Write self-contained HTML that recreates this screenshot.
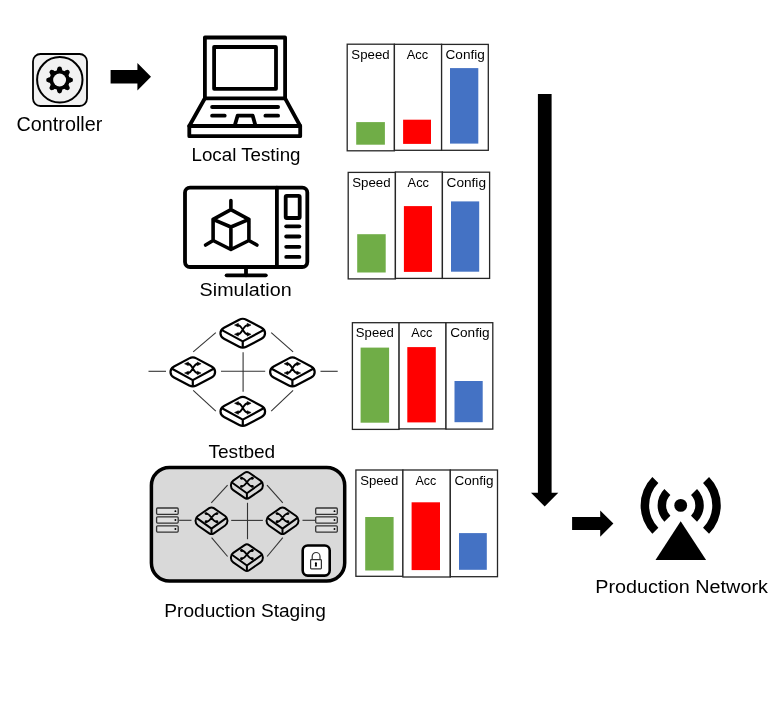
<!DOCTYPE html><html><head><meta charset="utf-8"><style>html,body{margin:0;padding:0;background:#fff;width:779px;height:706px;overflow:hidden}svg{display:block;will-change:transform}text{font-family:"Liberation Sans",sans-serif}</style></head><body>
<svg width="779" height="706" viewBox="0 0 779 706">
<rect width="779" height="706" fill="#fff"/>
<rect x="33" y="54" width="54" height="52" rx="7.5" fill="#F2F2F2" stroke="#000" stroke-width="1.8"/>
<circle cx="59.8" cy="79.8" r="22.7" fill="none" stroke="#000" stroke-width="2"/>
<g transform="translate(59.6,80.0)"><circle r="10.1" fill="#000"/><g transform="rotate(0)"><path d="M-2.9,-9 L-2.3,-11.4 L2.3,-11.4 L2.9,-9Z" fill="#000"/><line x1="0" y1="-9.5" x2="0" y2="-11.1" stroke="#000" stroke-width="4.6" stroke-linecap="round"/></g><g transform="rotate(45)"><path d="M-2.9,-9 L-2.3,-11.4 L2.3,-11.4 L2.9,-9Z" fill="#000"/><line x1="0" y1="-9.5" x2="0" y2="-11.1" stroke="#000" stroke-width="4.6" stroke-linecap="round"/></g><g transform="rotate(90)"><path d="M-2.9,-9 L-2.3,-11.4 L2.3,-11.4 L2.9,-9Z" fill="#000"/><line x1="0" y1="-9.5" x2="0" y2="-11.1" stroke="#000" stroke-width="4.6" stroke-linecap="round"/></g><g transform="rotate(135)"><path d="M-2.9,-9 L-2.3,-11.4 L2.3,-11.4 L2.9,-9Z" fill="#000"/><line x1="0" y1="-9.5" x2="0" y2="-11.1" stroke="#000" stroke-width="4.6" stroke-linecap="round"/></g><g transform="rotate(180)"><path d="M-2.9,-9 L-2.3,-11.4 L2.3,-11.4 L2.9,-9Z" fill="#000"/><line x1="0" y1="-9.5" x2="0" y2="-11.1" stroke="#000" stroke-width="4.6" stroke-linecap="round"/></g><g transform="rotate(225)"><path d="M-2.9,-9 L-2.3,-11.4 L2.3,-11.4 L2.9,-9Z" fill="#000"/><line x1="0" y1="-9.5" x2="0" y2="-11.1" stroke="#000" stroke-width="4.6" stroke-linecap="round"/></g><g transform="rotate(270)"><path d="M-2.9,-9 L-2.3,-11.4 L2.3,-11.4 L2.9,-9Z" fill="#000"/><line x1="0" y1="-9.5" x2="0" y2="-11.1" stroke="#000" stroke-width="4.6" stroke-linecap="round"/></g><g transform="rotate(315)"><path d="M-2.9,-9 L-2.3,-11.4 L2.3,-11.4 L2.9,-9Z" fill="#000"/><line x1="0" y1="-9.5" x2="0" y2="-11.1" stroke="#000" stroke-width="4.6" stroke-linecap="round"/></g><circle r="6.45" fill="#F2F2F2"/></g>
<text transform="translate(16.61,130.90) scale(1.0241,1)" font-size="19.3" fill="#000">Controller</text>
<path d="M110.6,70L137.4,70L137.4,62.9L151,76.8L137.4,90.6L137.4,83.5L110.6,83.5Z" fill="#000"/>
<g fill="none" stroke="#000" stroke-width="3.8" stroke-linejoin="round" stroke-linecap="round">
<path d="M204.9,98.3L204.9,37.5L285.1,37.5L285.1,98.3Z"/>
<rect x="214.1" y="47" width="61.9" height="41.8"/>
<path d="M204.9,98.3L189.3,126L300.2,126L285.1,98.3"/>
<path d="M189.3,126L189.3,136.2L300.2,136.2L300.2,126"/>
<line x1="212.1" y1="107" x2="278.1" y2="107"/>
<line x1="212.1" y1="115.7" x2="224.7" y2="115.7"/>
<line x1="265.4" y1="115.7" x2="278.1" y2="115.7"/>
<path d="M234.6,126L237.6,115.7L252.7,115.7L255.6,126" stroke-linecap="butt"/>
</g>
<text transform="translate(191.50,160.50) scale(0.9919,1)" font-size="18.9" fill="#000">Local Testing</text>
<g fill="none" stroke="#000" stroke-width="3.8" stroke-linejoin="round" stroke-linecap="round">
<rect x="185" y="187.6" width="122.3" height="79.4" rx="5"/>
<line x1="276.9" y1="187.6" x2="276.9" y2="267"/>
<rect x="285.7" y="195.9" width="14" height="22.1" rx="1"/>
<line x1="286.2" y1="226.3" x2="299.4" y2="226.3"/>
<line x1="286.2" y1="236.5" x2="299.4" y2="236.5"/>
<line x1="286.2" y1="246.8" x2="299.4" y2="246.8"/>
<line x1="286.2" y1="256.9" x2="299.4" y2="256.9"/>
<line x1="246" y1="267" x2="246" y2="275.3"/>
<line x1="226.6" y1="275.3" x2="265.8" y2="275.3"/>
</g>
<g fill="none" stroke="#000" stroke-width="3.6" stroke-linejoin="round" stroke-linecap="round">
<path d="M230.9,200.5L230.9,209.6M213.1,219.3L230.9,209.6L248.9,219.3L248.9,240.5L230.9,249.5L213.1,240.5Z M213.1,219.3L230.9,227L248.9,219.3M230.9,227L230.9,249.5M213.1,240.5L205.6,245M248.9,240.5L256.9,245" />
</g>
<text transform="translate(199.61,295.90) scale(1.0431,1)" font-size="18.9" fill="#000">Simulation</text>
<g stroke="#333" stroke-width="1.1" fill="none">
<line x1="148.5" y1="371.3" x2="166" y2="371.3"/>
<line x1="221" y1="371.3" x2="265.2" y2="371.3"/>
<line x1="320.5" y1="371.3" x2="337.7" y2="371.3"/>
<line x1="243.1" y1="352.3" x2="243.1" y2="391.8"/>
<line x1="193.2" y1="351.9" x2="215.8" y2="332.7"/>
<line x1="271.2" y1="332.7" x2="293.1" y2="351.9"/>
<line x1="193.2" y1="390.4" x2="215.8" y2="411.2"/>
<line x1="293.1" y1="390.4" x2="271.2" y2="411.2"/>
</g>
<path d="M239.21,319.67Q242.75,317.80 246.29,319.67L261.51,327.73Q265.05,329.60 265.05,333.25L265.05,333.25Q265.05,336.90 261.51,338.77L246.29,346.83Q242.75,348.70 239.21,346.83L223.99,338.77Q220.45,336.90 220.45,333.25L220.45,333.25Q220.45,329.60 223.99,327.73Z" fill="#fff" stroke="#000" stroke-width="2.2" stroke-linejoin="round"/>
<path d="M221.05,329.60L242.75,341.40L264.45,329.60M242.75,341.40L242.75,347.90" fill="none" stroke="#000" stroke-width="2.2" stroke-linejoin="round"/>
<path d="M237.75,325.10C240.25,325.10 241.50,327.63 242.75,329.70C244.00,331.77 245.25,334.30 247.75,334.30M237.75,334.30C240.25,334.30 241.50,331.77 242.75,329.70C244.00,327.63 245.25,325.10 247.75,325.10" fill="none" stroke="#000" stroke-width="1.90"/>
<path d="M234.45,325.10L238.35,323.25L238.35,326.95Z" fill="#000" stroke="#000" stroke-width="0.5" stroke-linejoin="round"/>
<path d="M234.45,334.30L238.35,332.45L238.35,336.15Z" fill="#000" stroke="#000" stroke-width="0.5" stroke-linejoin="round"/>
<path d="M251.05,325.10L247.15,323.25L247.15,326.95Z" fill="#000" stroke="#000" stroke-width="0.5" stroke-linejoin="round"/>
<path d="M251.05,334.30L247.15,332.45L247.15,336.15Z" fill="#000" stroke="#000" stroke-width="0.5" stroke-linejoin="round"/>
<path d="M189.26,358.37Q192.80,356.50 196.34,358.37L211.56,366.43Q215.10,368.30 215.10,371.95L215.10,371.95Q215.10,375.60 211.56,377.47L196.34,385.53Q192.80,387.40 189.26,385.53L174.04,377.47Q170.50,375.60 170.50,371.95L170.50,371.95Q170.50,368.30 174.04,366.43Z" fill="#fff" stroke="#000" stroke-width="2.2" stroke-linejoin="round"/>
<path d="M171.10,368.30L192.80,380.10L214.50,368.30M192.80,380.10L192.80,386.60" fill="none" stroke="#000" stroke-width="2.2" stroke-linejoin="round"/>
<path d="M187.80,363.80C190.30,363.80 191.55,366.33 192.80,368.40C194.05,370.47 195.30,373.00 197.80,373.00M187.80,373.00C190.30,373.00 191.55,370.47 192.80,368.40C194.05,366.33 195.30,363.80 197.80,363.80" fill="none" stroke="#000" stroke-width="1.90"/>
<path d="M184.50,363.80L188.40,361.95L188.40,365.65Z" fill="#000" stroke="#000" stroke-width="0.5" stroke-linejoin="round"/>
<path d="M184.50,373.00L188.40,371.15L188.40,374.85Z" fill="#000" stroke="#000" stroke-width="0.5" stroke-linejoin="round"/>
<path d="M201.10,363.80L197.20,361.95L197.20,365.65Z" fill="#000" stroke="#000" stroke-width="0.5" stroke-linejoin="round"/>
<path d="M201.10,373.00L197.20,371.15L197.20,374.85Z" fill="#000" stroke="#000" stroke-width="0.5" stroke-linejoin="round"/>
<path d="M288.86,358.37Q292.40,356.50 295.94,358.37L311.16,366.43Q314.70,368.30 314.70,371.95L314.70,371.95Q314.70,375.60 311.16,377.47L295.94,385.53Q292.40,387.40 288.86,385.53L273.64,377.47Q270.10,375.60 270.10,371.95L270.10,371.95Q270.10,368.30 273.64,366.43Z" fill="#fff" stroke="#000" stroke-width="2.2" stroke-linejoin="round"/>
<path d="M270.70,368.30L292.40,380.10L314.10,368.30M292.40,380.10L292.40,386.60" fill="none" stroke="#000" stroke-width="2.2" stroke-linejoin="round"/>
<path d="M287.40,363.80C289.90,363.80 291.15,366.33 292.40,368.40C293.65,370.47 294.90,373.00 297.40,373.00M287.40,373.00C289.90,373.00 291.15,370.47 292.40,368.40C293.65,366.33 294.90,363.80 297.40,363.80" fill="none" stroke="#000" stroke-width="1.90"/>
<path d="M284.10,363.80L288.00,361.95L288.00,365.65Z" fill="#000" stroke="#000" stroke-width="0.5" stroke-linejoin="round"/>
<path d="M284.10,373.00L288.00,371.15L288.00,374.85Z" fill="#000" stroke="#000" stroke-width="0.5" stroke-linejoin="round"/>
<path d="M300.70,363.80L296.80,361.95L296.80,365.65Z" fill="#000" stroke="#000" stroke-width="0.5" stroke-linejoin="round"/>
<path d="M300.70,373.00L296.80,371.15L296.80,374.85Z" fill="#000" stroke="#000" stroke-width="0.5" stroke-linejoin="round"/>
<path d="M239.26,397.87Q242.80,396.00 246.34,397.87L261.56,405.93Q265.10,407.80 265.10,411.45L265.10,411.45Q265.10,415.10 261.56,416.97L246.34,425.03Q242.80,426.90 239.26,425.03L224.04,416.97Q220.50,415.10 220.50,411.45L220.50,411.45Q220.50,407.80 224.04,405.93Z" fill="#fff" stroke="#000" stroke-width="2.2" stroke-linejoin="round"/>
<path d="M221.10,407.80L242.80,419.60L264.50,407.80M242.80,419.60L242.80,426.10" fill="none" stroke="#000" stroke-width="2.2" stroke-linejoin="round"/>
<path d="M237.80,403.30C240.30,403.30 241.55,405.83 242.80,407.90C244.05,409.97 245.30,412.50 247.80,412.50M237.80,412.50C240.30,412.50 241.55,409.97 242.80,407.90C244.05,405.83 245.30,403.30 247.80,403.30" fill="none" stroke="#000" stroke-width="1.90"/>
<path d="M234.50,403.30L238.40,401.45L238.40,405.15Z" fill="#000" stroke="#000" stroke-width="0.5" stroke-linejoin="round"/>
<path d="M234.50,412.50L238.40,410.65L238.40,414.35Z" fill="#000" stroke="#000" stroke-width="0.5" stroke-linejoin="round"/>
<path d="M251.10,403.30L247.20,401.45L247.20,405.15Z" fill="#000" stroke="#000" stroke-width="0.5" stroke-linejoin="round"/>
<path d="M251.10,412.50L247.20,410.65L247.20,414.35Z" fill="#000" stroke="#000" stroke-width="0.5" stroke-linejoin="round"/>
<text transform="translate(208.47,457.70) scale(1.0095,1)" font-size="18.9" fill="#000">Testbed</text>
<rect x="151.4" y="467.4" width="193.3" height="113.6" rx="18" fill="#D9D9D9" stroke="#000" stroke-width="3.5"/>
<g stroke="#333" stroke-width="1.1" fill="none">
<line x1="179.1" y1="520.3" x2="191.5" y2="520.3"/>
<line x1="302.5" y1="520.3" x2="315.1" y2="520.3"/>
<line x1="231.2" y1="520.4" x2="262.9" y2="520.4"/>
<line x1="247.5" y1="502.8" x2="247.5" y2="539.2"/>
<line x1="211.3" y1="502.8" x2="227.6" y2="485.1"/>
<line x1="267" y1="485.1" x2="282.8" y2="502.8"/>
<line x1="211.6" y1="537.7" x2="227.6" y2="556.5"/>
<line x1="282.8" y1="537.7" x2="267.1" y2="556.5"/>
</g>
<rect x="156.60" y="508.0" width="21.6" height="6.3" rx="1" fill="#E0E0E0" stroke="#333" stroke-width="1.3"/>
<circle cx="175.40" cy="511.15" r="0.95" fill="#000"/>
<rect x="156.60" y="516.8" width="21.6" height="6.3" rx="1" fill="#E0E0E0" stroke="#333" stroke-width="1.3"/>
<circle cx="175.40" cy="519.95" r="0.95" fill="#000"/>
<rect x="156.60" y="525.8" width="21.6" height="6.3" rx="1" fill="#E0E0E0" stroke="#333" stroke-width="1.3"/>
<circle cx="175.40" cy="528.95" r="0.95" fill="#000"/>
<rect x="315.70" y="508.0" width="21.6" height="6.3" rx="1" fill="#E0E0E0" stroke="#333" stroke-width="1.3"/>
<circle cx="334.50" cy="511.15" r="0.95" fill="#000"/>
<rect x="315.70" y="516.8" width="21.6" height="6.3" rx="1" fill="#E0E0E0" stroke="#333" stroke-width="1.3"/>
<circle cx="334.50" cy="519.95" r="0.95" fill="#000"/>
<rect x="315.70" y="525.8" width="21.6" height="6.3" rx="1" fill="#E0E0E0" stroke="#333" stroke-width="1.3"/>
<circle cx="334.50" cy="528.95" r="0.95" fill="#000"/>
<path d="M244.60,472.79Q246.90,471.20 249.20,472.79L260.55,480.61Q262.85,482.20 262.85,485.00L262.85,485.70Q262.85,488.50 260.55,490.09L249.20,497.91Q246.90,499.50 244.60,497.91L233.25,490.09Q230.95,488.50 230.95,485.70L230.95,485.00Q230.95,482.20 233.25,480.61Z" fill="#D9D9D9" stroke="#000" stroke-width="2.0" stroke-linejoin="round"/>
<path d="M231.55,482.20L246.90,493.20L262.25,482.20M246.90,493.20L246.90,498.70" fill="none" stroke="#000" stroke-width="2.0" stroke-linejoin="round"/>
<path d="M241.50,478.20C244.20,478.20 245.55,480.45 246.90,482.30C248.25,484.14 249.60,486.40 252.30,486.40M241.50,486.40C244.20,486.40 245.55,484.14 246.90,482.30C248.25,480.45 249.60,478.20 252.30,478.20" fill="none" stroke="#000" stroke-width="1.80"/>
<circle cx="241.50" cy="478.20" r="1.45" fill="#000"/>
<circle cx="241.50" cy="486.40" r="1.45" fill="#000"/>
<circle cx="252.30" cy="478.20" r="1.45" fill="#000"/>
<circle cx="252.30" cy="486.40" r="1.45" fill="#000"/>
<path d="M209.20,508.19Q211.50,506.60 213.80,508.19L225.15,516.01Q227.45,517.60 227.45,520.40L227.45,521.10Q227.45,523.90 225.15,525.49L213.80,533.31Q211.50,534.90 209.20,533.31L197.85,525.49Q195.55,523.90 195.55,521.10L195.55,520.40Q195.55,517.60 197.85,516.01Z" fill="#D9D9D9" stroke="#000" stroke-width="2.0" stroke-linejoin="round"/>
<path d="M196.15,517.60L211.50,528.60L226.85,517.60M211.50,528.60L211.50,534.10" fill="none" stroke="#000" stroke-width="2.0" stroke-linejoin="round"/>
<path d="M206.10,513.60C208.80,513.60 210.15,515.86 211.50,517.70C212.85,519.55 214.20,521.80 216.90,521.80M206.10,521.80C208.80,521.80 210.15,519.55 211.50,517.70C212.85,515.86 214.20,513.60 216.90,513.60" fill="none" stroke="#000" stroke-width="1.80"/>
<circle cx="206.10" cy="513.60" r="1.45" fill="#000"/>
<circle cx="206.10" cy="521.80" r="1.45" fill="#000"/>
<circle cx="216.90" cy="513.60" r="1.45" fill="#000"/>
<circle cx="216.90" cy="521.80" r="1.45" fill="#000"/>
<path d="M280.20,508.19Q282.50,506.60 284.80,508.19L296.15,516.01Q298.45,517.60 298.45,520.40L298.45,521.10Q298.45,523.90 296.15,525.49L284.80,533.31Q282.50,534.90 280.20,533.31L268.85,525.49Q266.55,523.90 266.55,521.10L266.55,520.40Q266.55,517.60 268.85,516.01Z" fill="#D9D9D9" stroke="#000" stroke-width="2.0" stroke-linejoin="round"/>
<path d="M267.15,517.60L282.50,528.60L297.85,517.60M282.50,528.60L282.50,534.10" fill="none" stroke="#000" stroke-width="2.0" stroke-linejoin="round"/>
<path d="M277.10,513.60C279.80,513.60 281.15,515.86 282.50,517.70C283.85,519.55 285.20,521.80 287.90,521.80M277.10,521.80C279.80,521.80 281.15,519.55 282.50,517.70C283.85,515.86 285.20,513.60 287.90,513.60" fill="none" stroke="#000" stroke-width="1.80"/>
<circle cx="277.10" cy="513.60" r="1.45" fill="#000"/>
<circle cx="277.10" cy="521.80" r="1.45" fill="#000"/>
<circle cx="287.90" cy="513.60" r="1.45" fill="#000"/>
<circle cx="287.90" cy="521.80" r="1.45" fill="#000"/>
<path d="M244.60,545.09Q246.90,543.50 249.20,545.09L260.55,552.91Q262.85,554.50 262.85,557.30L262.85,558.00Q262.85,560.80 260.55,562.39L249.20,570.21Q246.90,571.80 244.60,570.21L233.25,562.39Q230.95,560.80 230.95,558.00L230.95,557.30Q230.95,554.50 233.25,552.91Z" fill="#D9D9D9" stroke="#000" stroke-width="2.0" stroke-linejoin="round"/>
<path d="M231.55,554.50L246.90,565.50L262.25,554.50M246.90,565.50L246.90,571.00" fill="none" stroke="#000" stroke-width="2.0" stroke-linejoin="round"/>
<path d="M241.50,550.50C244.20,550.50 245.55,552.75 246.90,554.60C248.25,556.45 249.60,558.70 252.30,558.70M241.50,558.70C244.20,558.70 245.55,556.45 246.90,554.60C248.25,552.75 249.60,550.50 252.30,550.50" fill="none" stroke="#000" stroke-width="1.80"/>
<circle cx="241.50" cy="550.50" r="1.45" fill="#000"/>
<circle cx="241.50" cy="558.70" r="1.45" fill="#000"/>
<circle cx="252.30" cy="550.50" r="1.45" fill="#000"/>
<circle cx="252.30" cy="558.70" r="1.45" fill="#000"/>
<rect x="302.7" y="545.5" width="27" height="30.1" rx="5" fill="#fff" stroke="#000" stroke-width="2.6"/>
<path d="M312.2,559.5L312.2,556.4A3.9,3.9 0 0 1 320,556.4L320,559.5" fill="none" stroke="#333" stroke-width="1.2"/>
<rect x="310.6" y="559.7" width="10.8" height="9.2" rx="0.8" fill="#fff" stroke="#333" stroke-width="1.2"/>
<circle cx="315.9" cy="563.4" r="1.1" fill="#000"/><path d="M315.2,563.6L316.6,563.6L317,566.6L314.8,566.6Z" fill="#000"/>
<text transform="translate(164.27,617.30) scale(1.0117,1)" font-size="18.9" fill="#000">Production Staging</text>
<rect x="347.20" y="44.20" width="47.20" height="106.60" fill="#fff" stroke="#262626" stroke-width="1.3"/>
<rect x="394.40" y="44.30" width="47.20" height="106.00" fill="#fff" stroke="#262626" stroke-width="1.3"/>
<rect x="441.60" y="44.40" width="46.70" height="105.90" fill="#fff" stroke="#262626" stroke-width="1.3"/>
<rect x="356.20" y="122.10" width="28.70" height="22.60" fill="#70AD47"/>
<rect x="403.10" y="119.70" width="27.90" height="24.20" fill="#FF0000"/>
<rect x="450.00" y="68.10" width="28.30" height="75.50" fill="#4472C4"/>
<text transform="translate(351.34,58.50) scale(1.0183,1)" font-size="13" fill="#000">Speed</text>
<text transform="translate(406.70,58.80) scale(0.9850,1)" font-size="13" fill="#000">Acc</text>
<text transform="translate(445.52,58.80) scale(1.0459,1)" font-size="13" fill="#000">Config</text>
<rect x="348.20" y="172.40" width="47.20" height="106.50" fill="#fff" stroke="#262626" stroke-width="1.3"/>
<rect x="395.40" y="172.00" width="47.00" height="106.40" fill="#fff" stroke="#262626" stroke-width="1.3"/>
<rect x="442.40" y="172.20" width="47.20" height="106.20" fill="#fff" stroke="#262626" stroke-width="1.3"/>
<rect x="357.20" y="234.20" width="28.50" height="38.30" fill="#70AD47"/>
<rect x="403.90" y="206.10" width="28.10" height="65.80" fill="#FF0000"/>
<rect x="451.00" y="201.40" width="28.20" height="70.30" fill="#4472C4"/>
<text transform="translate(352.13,186.90) scale(1.0238,1)" font-size="13" fill="#000">Speed</text>
<text transform="translate(407.60,186.90) scale(0.9850,1)" font-size="13" fill="#000">Acc</text>
<text transform="translate(446.52,186.90) scale(1.0515,1)" font-size="13" fill="#000">Config</text>
<rect x="352.40" y="322.70" width="46.70" height="106.70" fill="#fff" stroke="#262626" stroke-width="1.3"/>
<rect x="399.10" y="322.70" width="46.90" height="106.20" fill="#fff" stroke="#262626" stroke-width="1.3"/>
<rect x="446.00" y="322.70" width="46.80" height="106.40" fill="#fff" stroke="#262626" stroke-width="1.3"/>
<rect x="360.60" y="347.60" width="28.50" height="75.10" fill="#70AD47"/>
<rect x="407.30" y="347.10" width="28.50" height="75.30" fill="#FF0000"/>
<rect x="454.50" y="381.00" width="28.20" height="41.20" fill="#4472C4"/>
<text transform="translate(355.84,337.10) scale(1.0100,1)" font-size="13" fill="#000">Speed</text>
<text transform="translate(411.20,337.10) scale(0.9756,1)" font-size="13" fill="#000">Acc</text>
<text transform="translate(450.22,337.10) scale(1.0459,1)" font-size="13" fill="#000">Config</text>
<rect x="355.90" y="470.00" width="47.00" height="106.30" fill="#fff" stroke="#262626" stroke-width="1.3"/>
<rect x="402.90" y="470.00" width="47.40" height="107.00" fill="#fff" stroke="#262626" stroke-width="1.3"/>
<rect x="450.30" y="470.00" width="47.20" height="106.70" fill="#fff" stroke="#262626" stroke-width="1.3"/>
<rect x="365.20" y="517.00" width="28.40" height="53.50" fill="#70AD47"/>
<rect x="411.60" y="502.30" width="28.40" height="67.80" fill="#FF0000"/>
<rect x="459.00" y="533.10" width="27.80" height="36.70" fill="#4472C4"/>
<text transform="translate(360.14,484.90) scale(1.0127,1)" font-size="13" fill="#000">Speed</text>
<text transform="translate(415.40,484.90) scale(0.9615,1)" font-size="13" fill="#000">Acc</text>
<text transform="translate(454.52,484.90) scale(1.0404,1)" font-size="13" fill="#000">Config</text>
<path d="M537.9,94L551.6,94L551.6,492.7L558.3,492.7L544.7,506.6L531,492.7L537.9,492.7Z" fill="#000"/>
<path d="M572.1,517.1L600.2,517.1L600.2,510.4L613.4,523.5L600.2,536.8L600.2,530L572.1,530Z" fill="#000"/>
<path d="M664.37,489.07A23.1,23.1 0 0 0 664.37,521.73L670.38,515.72A14.6,14.6 0 0 1 670.38,495.08ZM652.35,477.05A40.1,40.1 0 0 0 652.35,533.75L658.36,527.74A31.6,31.6 0 0 1 658.36,483.06ZM697.03,521.73A23.1,23.1 0 0 0 697.03,489.07L691.02,495.08A14.6,14.6 0 0 1 691.02,515.72ZM709.05,533.75A40.1,40.1 0 0 0 709.05,477.05L703.04,483.06A31.6,31.6 0 0 1 703.04,527.74Z" fill="#000"/>
<circle cx="680.7" cy="505.4" r="6.4" fill="#000"/>
<path d="M680.7,521.3L706.1,560L655.5,560Z" fill="#000"/>
<text transform="translate(595.22,592.90) scale(1.0472,1)" font-size="18.9" fill="#000">Production Network</text>
</svg></body></html>
